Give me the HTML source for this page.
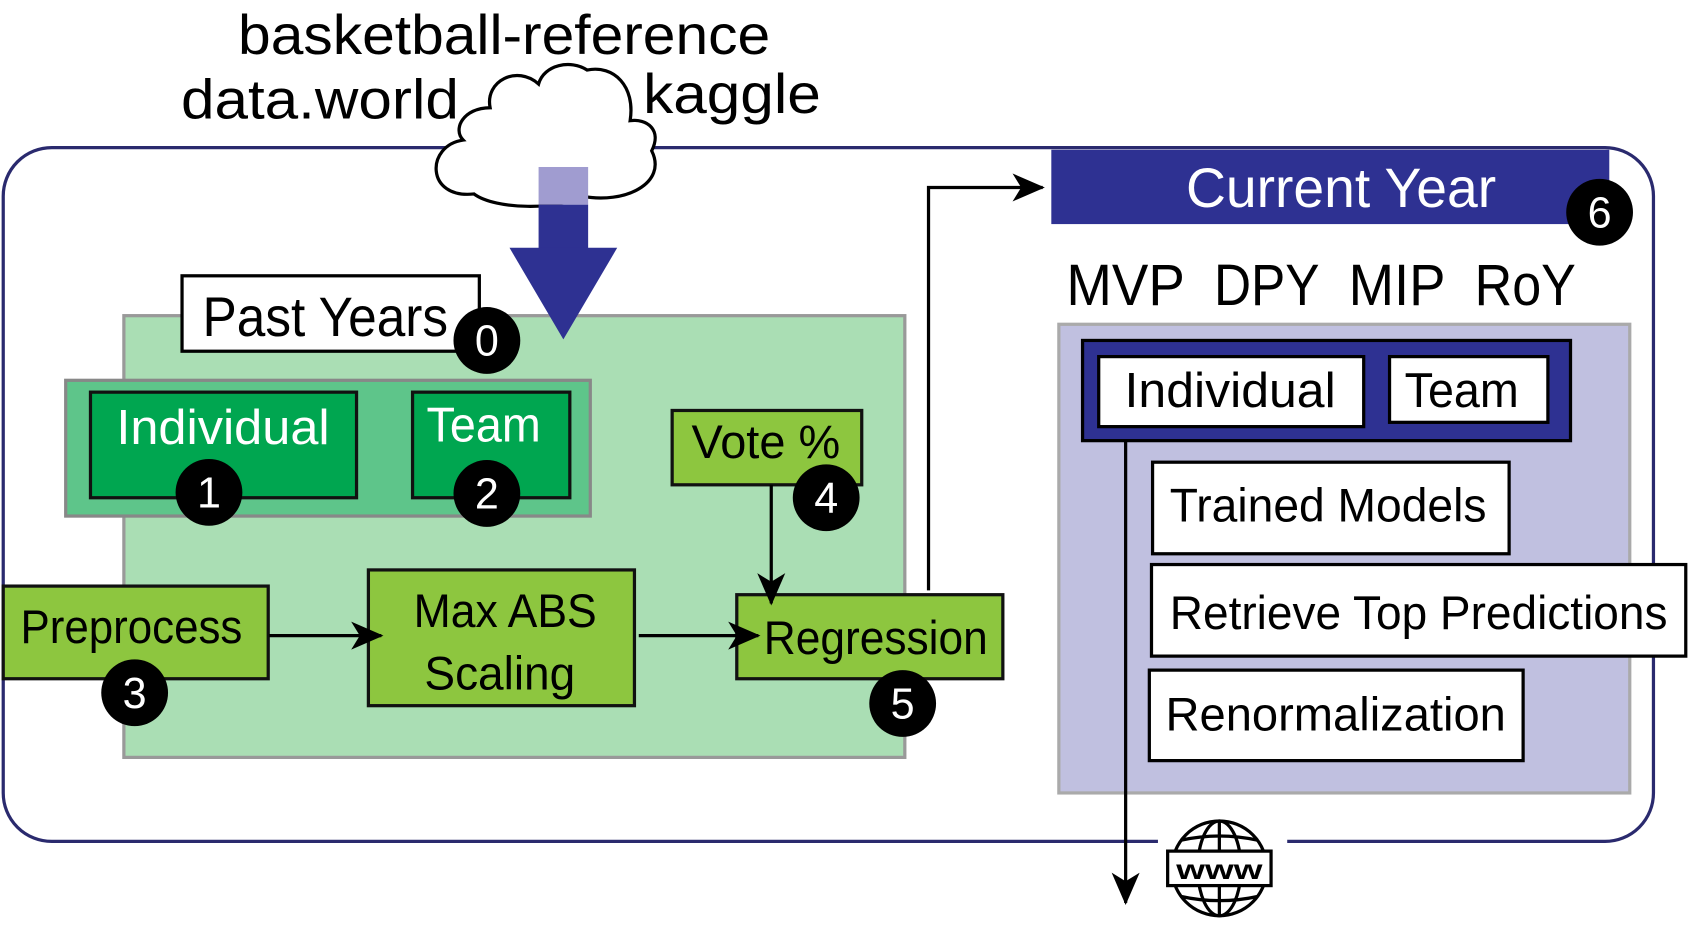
<!DOCTYPE html>
<html><head><meta charset="utf-8"><style>html,body{margin:0;padding:0;background:#fff}svg{display:block}text{font-family:"Liberation Sans",sans-serif}</style></head><body>
<svg width="1689" height="933" viewBox="0 0 1568 866" preserveAspectRatio="none" xmlns="http://www.w3.org/2000/svg">
<defs><marker id="ah" markerWidth="30" markerHeight="26" refX="28" refY="13" orient="auto" markerUnits="userSpaceOnUse" viewBox="0 0 30 26"><path d="M0,0 L30,13 L0,26 L8,13 z" fill="#000"/></marker></defs>
<!-- outer frame -->
<rect x="3" y="137" width="1532" height="644" rx="45" fill="none" stroke="#2a2a6e" stroke-width="3"/>
<rect x="1075" y="770" width="120" height="20" fill="#fff"/>
<!-- top texts -->
<text x="468" y="50" font-size="52" text-anchor="middle" textLength="494" lengthAdjust="spacingAndGlyphs">basketball-reference</text>
<text x="168" y="110" font-size="52" textLength="258" lengthAdjust="spacingAndGlyphs">data.world</text>
<text x="597" y="105" font-size="52" textLength="165" lengthAdjust="spacingAndGlyphs">kaggle</text>
<!-- cloud -->
<path d="M430,130 C395,135 395,185 440,180 C460,195 520,195 540,182 C580,190 620,170 605,140 C615,120 600,110 585,112 C590,80 570,60 545,65 C530,55 505,60 500,78 C480,60 450,75 455,100 C430,100 420,120 430,130 Z" fill="#fff" stroke="#000" stroke-width="3"/>
<!-- green panel -->
<rect x="115" y="293" width="725" height="410" fill="#aadeb4" stroke="#999" stroke-width="3"/>
<!-- big arrow -->
<rect x="500" y="155" width="46" height="35" fill="#a09cd0"/>
<rect x="500" y="190" width="46" height="42" fill="#2e3192"/>
<path d="M473,230 L573,230 L523,315 Z" fill="#2e3192"/>
<rect x="169" y="256" width="276" height="70" fill="#fff" stroke="#000" stroke-width="3"/>
<text x="302" y="312" font-size="52" text-anchor="middle" textLength="228" lengthAdjust="spacingAndGlyphs">Past Years</text>
<rect x="61" y="353" width="487" height="126" fill="#5ec58a" stroke="#888" stroke-width="3"/>
<rect x="84" y="364" width="247" height="98" fill="#00a650" stroke="#111" stroke-width="3"/>
<text x="207" y="412" font-size="46" fill="#fff" text-anchor="middle" textLength="198" lengthAdjust="spacingAndGlyphs">Individual</text>
<rect x="383" y="364" width="146" height="98" fill="#00a650" stroke="#111" stroke-width="3"/>
<text x="449" y="410" font-size="46" fill="#fff" text-anchor="middle" textLength="106" lengthAdjust="spacingAndGlyphs">Team</text>
<rect x="624" y="381" width="176" height="69" fill="#8dc63f" stroke="#111" stroke-width="3"/>
<text x="711" y="425" font-size="44" text-anchor="middle" textLength="138" lengthAdjust="spacingAndGlyphs">Vote %</text>
<rect x="3" y="544" width="246" height="86" fill="#8dc63f" stroke="#111" stroke-width="3"/>
<text x="122" y="597" font-size="44" text-anchor="middle" textLength="206" lengthAdjust="spacingAndGlyphs">Preprocess</text>
<rect x="342" y="529" width="247" height="126" fill="#8dc63f" stroke="#111" stroke-width="3"/>
<text x="469" y="582" font-size="44" text-anchor="middle" textLength="170" lengthAdjust="spacingAndGlyphs">Max ABS</text>
<text x="464" y="640" font-size="44" text-anchor="middle" textLength="140" lengthAdjust="spacingAndGlyphs">Scaling</text>
<rect x="684" y="552" width="247" height="78" fill="#8dc63f" stroke="#111" stroke-width="3"/>
<text x="813" y="607" font-size="44" text-anchor="middle" textLength="208" lengthAdjust="spacingAndGlyphs">Regression</text>
<!-- arrows -->
<g stroke="#000" stroke-width="3" fill="none">
<line x1="250" y1="590" x2="354" y2="590" marker-end="url(#ah)"/>
<line x1="593" y1="590" x2="704" y2="590" marker-end="url(#ah)"/>
<line x1="716" y1="450" x2="716" y2="560" marker-end="url(#ah)"/>
<polyline points="862,548 862,174 968,174" marker-end="url(#ah)"/>
</g>
<!-- current year -->
<rect x="976" y="139" width="518" height="69" fill="#2e3192"/>
<text x="1245" y="192" font-size="52" fill="#fff" text-anchor="middle" textLength="288" lengthAdjust="spacingAndGlyphs">Current Year</text>
<text x="990" y="283" font-size="54" textLength="110" lengthAdjust="spacingAndGlyphs">MVP</text>
<text x="1127" y="283" font-size="54" textLength="98" lengthAdjust="spacingAndGlyphs">DPY</text>
<text x="1252" y="283" font-size="54" textLength="90" lengthAdjust="spacingAndGlyphs">MIP</text>
<text x="1369" y="283" font-size="54" textLength="94" lengthAdjust="spacingAndGlyphs">RoY</text>
<rect x="983" y="301" width="530" height="435" fill="#c0c0e0" stroke="#aaa" stroke-width="3"/>
<rect x="1005" y="316" width="453" height="93" fill="#2e3192" stroke="#000" stroke-width="3"/>
<rect x="1020" y="331" width="246" height="65" fill="#fff" stroke="#000" stroke-width="3"/>
<text x="1142" y="378" font-size="46" text-anchor="middle" textLength="196" lengthAdjust="spacingAndGlyphs">Individual</text>
<rect x="1290" y="331" width="147" height="61" fill="#fff" stroke="#000" stroke-width="3"/>
<text x="1357" y="378" font-size="46" text-anchor="middle" textLength="106" lengthAdjust="spacingAndGlyphs">Team</text>
<line x1="1045" y1="410" x2="1045" y2="838" stroke="#000" stroke-width="3" marker-end="url(#ah)"/>
<rect x="1070" y="429" width="331" height="85" fill="#fff" stroke="#000" stroke-width="3"/>
<text x="1086" y="484" font-size="44" textLength="294" lengthAdjust="spacingAndGlyphs">Trained Models</text>
<rect x="1069" y="524" width="496" height="85" fill="#fff" stroke="#000" stroke-width="3"/>
<text x="1086" y="584" font-size="44" textLength="462" lengthAdjust="spacingAndGlyphs">Retrieve Top Predictions</text>
<rect x="1067" y="622" width="347" height="84" fill="#fff" stroke="#000" stroke-width="3"/>
<text x="1082" y="678" font-size="44" textLength="316" lengthAdjust="spacingAndGlyphs">Renormalization</text>
<!-- globe -->
<g stroke="#000" stroke-width="3" fill="none">
<circle cx="1132" cy="806" r="44"/>
<ellipse cx="1132" cy="806" rx="20" ry="44"/>
<line x1="1132" y1="762" x2="1132" y2="850"/>
<path d="M1096,780 Q1132,772 1168,780 M1096,832 Q1132,840 1168,832"/>
</g>
<rect x="1084" y="790" width="96" height="32" fill="#fff" stroke="#000" stroke-width="3"/>
<text x="1132" y="816" font-size="26" font-weight="bold" text-anchor="middle" textLength="80" lengthAdjust="spacingAndGlyphs">www</text>
<!-- badges -->
<g fill="#000">
<circle cx="452" cy="316" r="31"/><circle cx="194" cy="457" r="31"/><circle cx="452" cy="458" r="31"/>
<circle cx="125" cy="643" r="31"/><circle cx="767" cy="462" r="31"/><circle cx="838" cy="653" r="31"/><circle cx="1485" cy="197" r="31"/>
</g>
<g fill="#fff" font-size="40" text-anchor="middle">
<text x="452" y="330">0</text><text x="194" y="471">1</text><text x="452" y="472">2</text>
<text x="125" y="657">3</text><text x="767" y="476">4</text><text x="838" y="667">5</text><text x="1485" y="211">6</text>
</g>
</svg>
</body></html>
